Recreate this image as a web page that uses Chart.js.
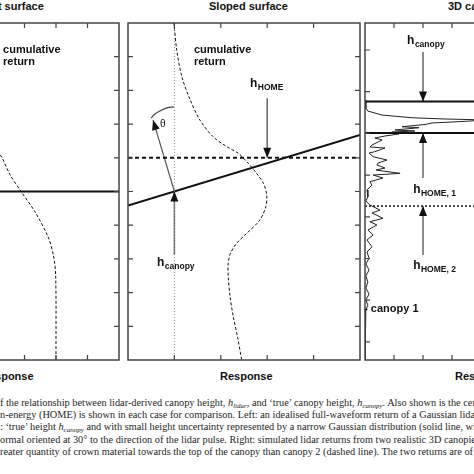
<!DOCTYPE html>
<html>
<head>
<meta charset="utf-8">
<script src="https://cdn.jsdelivr.net/npm/chart.js@4/dist/chart.umd.min.js"></script>
<style>
  html, body { margin: 0; padding: 0; background: #fff; }
  body { width: 474px; height: 474px; overflow: hidden; position: relative; font-family: 'Liberation Sans', Arial, sans-serif; }
  canvas { position: absolute; }
  .t { position: absolute; font-weight: bold; font-size: 11px; line-height: 13px; color: #111; white-space: nowrap; }
  .cap { position: absolute; left: 0; top: 397px; font-family: 'Liberation Serif', 'Times New Roman', serif; font-size: 10.3px; line-height: 12.2px; color: #1e1e1e; white-space: nowrap; }
  .cap sub { font-size: 7px; vertical-align: -2px; line-height: 0; }
</style>
</head>
<body>
<div class="t" style="left:-18px;top:0px">Flat surface</div>
<div class="t" style="left:209px;top:0px">Sloped surface</div>
<div class="t" style="left:448px;top:0px">3D canopy</div>

<canvas id="flat" width="201" height="349" style="left:-76px;top:17px"></canvas>
<canvas id="sloped" width="244" height="349" style="left:122px;top:17px"></canvas>
<canvas id="canopy" width="157" height="349" style="left:359px;top:17px"></canvas>

<div class="t" style="left:-19px;top:370px">Response</div>
<div class="t" style="left:220px;top:370px">Response</div>
<div class="t" style="left:455px;top:370px">Response</div>

<div class="cap">
f the relationship between lidar-derived canopy height, <i>h<sub>lidar</sub></i>, and ‘true’ canopy height, <i>h<sub>canopy</sub></i>. Also shown is the centre<br>
n-energy (HOME) is shown in each case for comparison. Left: an idealised full-waveform return of a Gaussian lidar pulse<br>
: ‘true’ height <i>h<sub>canopy</sub></i> and with small height uncertainty represented by a narrow Gaussian distribution (solid line, with<br>
ormal oriented at 30° to the direction of the lidar pulse. Right: simulated lidar returns from two realistic 3D canopies<br>
reater quantity of crown material towards the top of the canopy than canopy 2 (dashed line). The two returns are of
</div>

<script>
// left: flat surface, cumulative return against height
const flatHeight = [10, 7.5, 7, 6.6, 6.3, 6, 5.5, 5, 4.4, 3.65, 3.1, 2.5, 0]
const flatCumulative = [1.78, 1.79, 1.81, 1.92, 2.08, 2.29, 2.54, 2.89, 3.33, 3.75, 3.92, 3.99, 4.0]
const flatSurface = 5

// middle: sloped surface
const slopeHeight = [10, 9.2, 8.41, 7.72, 7.12, 6.63, 6.33, 6.13, 5.84, 5.54, 5.24, 4.9, 4.55, 4.15, 3.76, 3.46, 3.17, 2.87, 2.47, 1.88, 1.28, 0.69, 0]
const slopeReturn = [0.99, 1.05, 1.16, 1.34, 1.55, 1.83, 2.13, 2.38, 2.59, 2.77, 2.92, 2.99, 2.97, 2.84, 2.56, 2.34, 2.21, 2.16, 2.16, 2.2, 2.27, 2.36, 2.45]
const slopeLineX = [0, 5]
const slopeLineH = [4.58, 6.68]
const slopeCanopy = 5
const slopeHome = 6
const normalX = [1, 0.54]
const normalH = [5, 7.12]
const thetaX = [0.99, 0.84, 0.69, 0.58, 0.5]
const thetaH = [7.51, 7.48, 7.39, 7.3, 7.18]

// right: 3D canopy waveform (canopy 1)
const canopyHeight = [34.0, 33.04, 32.68, 32.2, 31.88, 31.73, 31.61, 31.43, 31.25, 31.07, 30.8, 30.68, 30.41, 30.29, 30.17, 29.93, 29.69, 29.45, 29.21, 28.97, 28.61, 28.37, 28.25, 27.81, 27.65, 27.21, 26.81, 26.45, 26.21, 25.85, 25.61, 25.21, 25.01, 24.65, 24.21, 23.81, 23.21, 22.41, 21.89, 21.41, 20.81, 20.46, 19.82, 19.41, 19.02, 18.42, 17.82, 17.22, 16.41, 15.78, 15.06, 14.34, 13.62, 12.9, 12.18, 11.46, 10.74, 10.02, 9.42, 8.82, 7.63, 2.83]
const canopyReturn = [0, 0.03, 0.1, 0.59, 1.62, 2.76, 4.21, 3.34, 2.31, 2.07, 1.28, 1.86, 1.03, 1.72, 0.93, 1.17, 0.69, 0.34, 0.59, 0.45, 0.24, 0.17, 0.69, 0.34, 0.14, 0.28, 0.76, 0.45, 0.41, 0.69, 0.38, 1.21, 0.28, 0.62, 0.17, 0.24, 0.07, 0.1, 0.03, 0.17, 0.52, 0.24, 0.62, 0.17, 0.41, 0.1, 0.28, 0.07, 0.24, 0.07, 0.14, 0.03, 0.14, 0.03, 0.1, 0.03, 0.14, 0.03, 0.1, 0.03, 0, 0]
const canopyTop = 33.82
const canopyHome1 = 30.05
const canopyHome2 = 21.29
const canopyTicks = [5, 10, 15, 20, 25, 30, 35, 40]

const SANS = '"Liberation Sans", Arial, sans-serif'

const xy = (xs, ys) => xs.map((x, i) => ({ x, y: ys[i] }))
const line = (xs, ys, style) =>
  Object.assign({ data: xy(xs, ys), showLine: true, pointRadius: 0, borderColor: '#111', borderWidth: 1, tension: 0 }, style)

const arrowHead = (ctx, from, to) => {
  const a = Math.atan2(to.y - from.y, to.x - from.x)
  const len = 10
  const half = 4
  ctx.beginPath()
  ctx.moveTo(to.x, to.y)
  ctx.lineTo(to.x - len * Math.cos(a) + half * Math.sin(a), to.y - len * Math.sin(a) - half * Math.cos(a))
  ctx.lineTo(to.x - len * Math.cos(a) - half * Math.sin(a), to.y - len * Math.sin(a) + half * Math.cos(a))
  ctx.closePath()
  ctx.fill()
}

// box with inward ticks, arrow heads and text labels
const framePlugin = {
  id: 'frame',
  afterDraw(chart, args, opts) {
    const { ctx, chartArea: a, scales } = chart
    ctx.save()
    ctx.strokeStyle = '#444'
    ctx.lineWidth = 1.5
    ctx.strokeRect(a.left, a.top, a.right - a.left, a.bottom - a.top)
    ctx.beginPath()
    ;(opts.xTicks || []).forEach((v) => {
      const px = scales.x.getPixelForValue(v)
      ctx.moveTo(px, a.top)
      ctx.lineTo(px, a.top + 5)
      ctx.moveTo(px, a.bottom)
      ctx.lineTo(px, a.bottom - 5)
    })
    ;(opts.yTicks || []).forEach((v) => {
      const py = scales.y.getPixelForValue(v)
      ctx.moveTo(a.left, py)
      ctx.lineTo(a.left + 5, py)
      ctx.moveTo(a.right, py)
      ctx.lineTo(a.right - 5, py)
    })
    ctx.lineWidth = 1.2
    ctx.stroke()

    ctx.fillStyle = '#111'
    chart.data.datasets.forEach((ds, i) => {
      if (!ds.arrow) return
      const pts = chart.getDatasetMeta(i).data
      arrowHead(ctx, pts[pts.length - 2], pts[pts.length - 1])
    })

    ctx.textAlign = 'left'
    ctx.textBaseline = 'alphabetic'
    ;(opts.labels || []).forEach((l) => {
      const px = scales.x.getPixelForValue(l.x)
      const py = scales.y.getPixelForValue(l.y)
      ctx.font = l.font || 'bold 11px ' + SANS
      ctx.fillText(l.text, px, py)
      if (l.sub) {
        const w = ctx.measureText(l.text).width
        ctx.font = 'bold 8.5px ' + SANS
        ctx.fillText(l.sub, px + w + 0.5, py + 3)
      }
    })
    ctx.restore()
  },
}

const panel = (id, xMax, yMin, yMax, datasets, frame) =>
  new Chart(document.getElementById(id), {
    type: 'scatter',
    data: { datasets },
    options: {
      responsive: false,
      animation: false,
      events: [],
      layout: { padding: 6 },
      scales: {
        x: { type: 'linear', min: 0, max: xMax, display: false },
        y: { type: 'linear', min: yMin, max: yMax, display: false },
      },
      plugins: { legend: { display: false }, tooltip: { enabled: false }, frame },
    },
    plugins: [framePlugin],
  })

panel('flat', 6, 0, 10, [
  line([0, 6], [flatSurface, flatSurface], { borderWidth: 2 }),
  line(flatCumulative, flatHeight, { borderDash: [3, 2], tension: 0.3 }),
], {
  xTicks: [1, 2, 3, 4, 5],
  yTicks: [1, 2, 3, 4, 5, 6, 7, 8, 9],
  labels: [
    { x: 2.32, y: 9.11, text: 'cumulative' },
    { x: 2.32, y: 8.76, text: 'return' },
  ],
})

panel('sloped', 5, 0, 10, [
  line([1, 1], [0, 10], { borderColor: '#9a9a9a', borderDash: [1, 2] }),
  line([0, 5], [slopeHome, slopeHome], { borderWidth: 2, borderDash: [4, 3] }),
  line(slopeLineX, slopeLineH, { borderWidth: 2 }),
  line(slopeReturn, slopeHeight, { borderDash: [3, 2], tension: 0.3 }),
  line(normalX, normalH, { borderColor: '#555', borderWidth: 1.2, arrow: true }),
  line(thetaX, thetaH, { borderColor: '#444', borderWidth: 1.2, tension: 0.3 }),
  line([1, 1], [3.12, slopeCanopy], { borderColor: '#666', borderWidth: 1.5, arrow: true }),
  line([3, 3], [7.77, slopeHome], { borderColor: '#666', borderWidth: 1.5, arrow: true }),
], {
  xTicks: [1, 2, 3, 4],
  yTicks: [1, 2, 3, 4, 5, 6, 7, 8, 9],
  labels: [
    { x: 1.42, y: 9.11, text: 'cumulative' },
    { x: 1.42, y: 8.76, text: 'return' },
    { x: 2.63, y: 8.1, text: 'h', sub: 'HOME', font: 'bold 12px ' + SANS },
    { x: 0.625, y: 2.79, text: 'h', sub: 'canopy', font: 'bold 12px ' + SANS },
    { x: 0.69, y: 6.91, text: 'θ', font: '10px ' + SANS },
  ],
})

panel('canopy', 5, 2.83, 43.24, [
  line([0, 5], [canopyTop, canopyTop], { borderWidth: 2 }),
  line([0, 5], [canopyHome1, canopyHome1], { borderWidth: 2 }),
  line([0, 5], [canopyHome2, canopyHome2], { borderWidth: 1.5, borderDash: [2, 2] }),
  line(canopyReturn, canopyHeight, { borderColor: '#222' }),
  line([2, 2], [39.76, canopyTop], { borderColor: '#666', borderWidth: 1.5, arrow: true }),
  line([2, 2], [24.65, canopyHome1], { borderColor: '#666', borderWidth: 1.5, arrow: true }),
  line([2, 2], [15.42, canopyHome2], { borderColor: '#666', borderWidth: 1.5, arrow: true }),
], {
  xTicks: [1, 2, 3, 4],
  yTicks: canopyTicks,
  labels: [
    { x: 1.45, y: 40.72, text: 'h', sub: 'canopy', font: 'bold 12px ' + SANS },
    { x: 1.66, y: 22.85, text: 'h', sub: 'HOME, 1', font: 'bold 12px ' + SANS },
    { x: 1.66, y: 13.74, text: 'h', sub: 'HOME, 2', font: 'bold 12px ' + SANS },
    { x: -0.03, y: 8.58, text: '- canopy 1' },
  ],
})
</script>
</body>
</html>
